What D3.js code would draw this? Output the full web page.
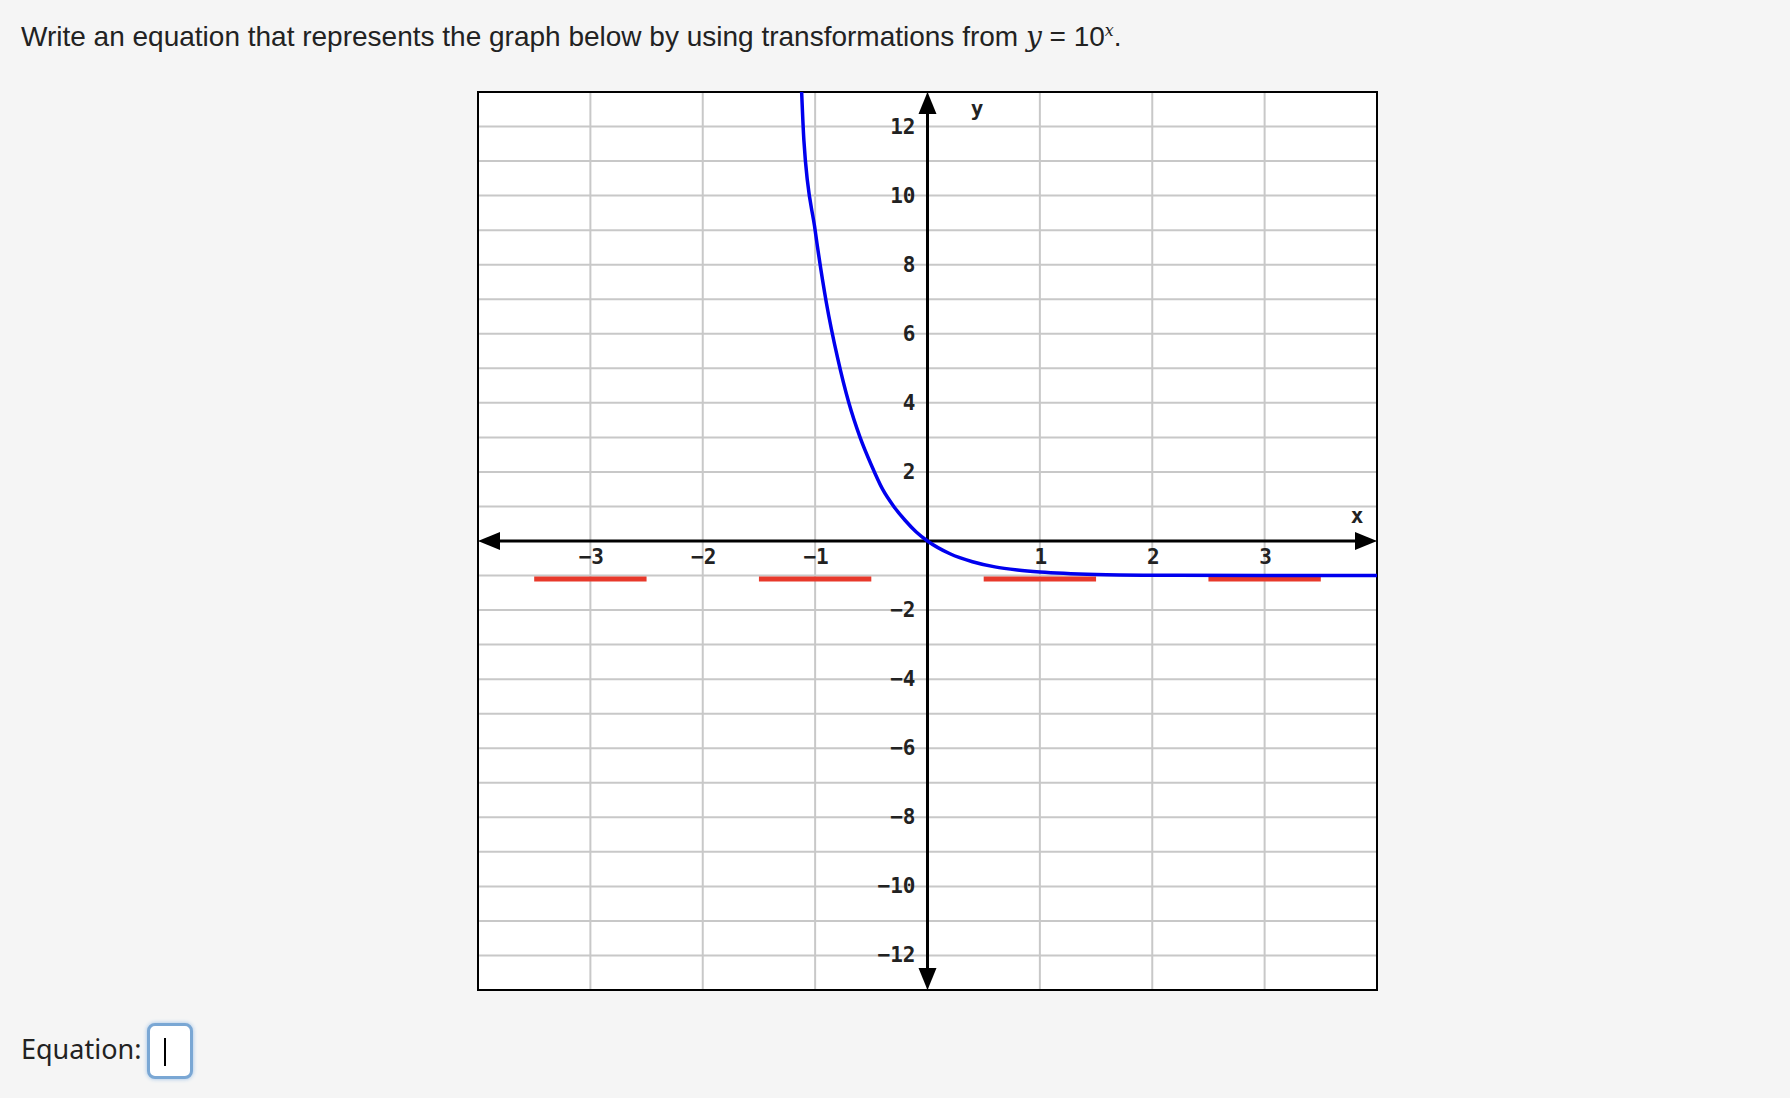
<!DOCTYPE html>
<html><head><meta charset="utf-8">
<script src="https://cdn.jsdelivr.net/npm/d3@7"></script>
<style>
body{margin:0;background:#f5f5f5;font-family:"Liberation Sans",Arial,sans-serif;}
#title{position:absolute;left:21px;top:20px;font-size:28px;color:#222;}
#title i{font-family:"DejaVu Serif",serif;font-size:28px}
#eq{position:absolute;left:21px;top:1030px;font-size:27px;color:#222;font-family:"Noto Sans",sans-serif}
#box{position:absolute;left:147px;top:1023px;width:40px;height:50px;border:3px solid #7aa7d4;border-radius:8px;background:#fff;box-shadow:0 0 4px #9cc0e6}
#box span{position:absolute;left:14px;top:12px;width:2px;height:28px;background:#000}
</style></head><body>
<div id="title">Write an equation that represents the graph below by using transformations from <i>y</i> = 10<sup style="font-size:16px;font-family:'DejaVu Serif';font-style:italic">x</sup>.</div>
<svg id="chart" width="1790" height="1010" style="position:absolute;left:0;top:0"></svg>
<div id="eq">Equation:</div><div id="box"><span></span></div>
<script>
// values
const xTicks = [-3, -2, -1, 1, 2, 3];
const yTicks = [12, 10, 8, 6, 4, 2, -2, -4, -6, -8, -10, -12];
const curveX = [-1.12, -1.1, -1.0, -0.9, -0.8, -0.7, -0.6, -0.5, -0.4, -0.3, -0.2, -0.1, 0, 0.2, 0.4, 0.6, 0.8, 1.0, 1.5, 2.0, 3.0, 4.0];
const curveY = [13.0, 11.6, 9.0, 6.9, 5.3, 4.0, 3.0, 2.2, 1.5, 1.0, 0.6, 0.26, 0, -0.37, -0.6, -0.75, -0.84, -0.9, -0.97, -0.99, -1.0, -1.0];
const redStart = [-3.5, -1.5, 0.5, 2.5];
const redEnd = [-2.5, -0.5, 1.5, 3.5];
const redY = -1.1;

const L = 478, R = 1377, T = 92, B = 990;
const svg = d3.select('#chart');
const x = d3.scaleLinear().domain([-4, 4]).range([L, R]);
const y = d3.scaleLinear().domain([-13, 13]).range([B, T]);

svg.append('rect').attr('x', L).attr('y', T).attr('width', R - L).attr('height', B - T).attr('fill', '#fff');

// grid
svg.append('g').selectAll('line').data(d3.range(-3, 4)).enter().append('line')
  .attr('x1', d => x(d)).attr('x2', d => x(d)).attr('y1', T).attr('y2', B)
  .attr('stroke', '#c8c8c8').attr('stroke-width', 2);
svg.append('g').selectAll('line').data(d3.range(-12, 13)).enter().append('line')
  .attr('y1', d => y(d)).attr('y2', d => y(d)).attr('x1', L).attr('x2', R)
  .attr('stroke', '#c8c8c8').attr('stroke-width', 2);

svg.append('rect').attr('x', L).attr('y', T).attr('width', R - L).attr('height', B - T)
  .attr('fill', 'none').attr('stroke', '#000').attr('stroke-width', 2);

// red segments
svg.append('g').selectAll('line').data(redStart).enter().append('line')
  .attr('x1', d => x(d)).attr('x2', (d, i) => x(redEnd[i])).attr('y1', y(redY)).attr('y2', y(redY))
  .attr('stroke', '#e8392b').attr('stroke-width', 5);

// axes
const ax = svg.append('g').attr('stroke', '#000').attr('stroke-width', 3);
ax.append('line').attr('x1', x(-4) + 18).attr('x2', x(4) - 18).attr('y1', y(0)).attr('y2', y(0));
ax.append('line').attr('x1', x(0)).attr('x2', x(0)).attr('y1', T + 18).attr('y2', B - 18);
const arrows = [[x(-4), y(0), 180], [x(4), y(0), 0], [x(0), T, -90], [x(0), B, 90]];
svg.append('g').selectAll('path').data(arrows).enter().append('path')
  .attr('d', 'M0,0 L-22,-9 L-22,9 Z').attr('fill', '#000')
  .attr('transform', d => `translate(${d[0]},${d[1]}) rotate(${d[2]})`);

const lab = svg.append('g').attr('font-family', '"DejaVu Sans Mono",monospace').attr('font-weight', 'bold')
  .attr('font-size', 21).attr('fill', '#222');
lab.selectAll('.xt').data(xTicks).enter().append('text')
  .attr('x', d => x(d) + 1).attr('y', y(0) + 23).attr('text-anchor', 'middle').text(d => d < 0 ? '\u2212' + (-d) : d);
lab.selectAll('.yt').data(yTicks).enter().append('text')
  .attr('x', x(0) - 12).attr('y', d => y(d) + 7).attr('text-anchor', 'end').text(d => d < 0 ? '\u2212' + (-d) : d);
lab.append('text').attr('x', 977).attr('y', 116).attr('text-anchor', 'middle').text('y');
lab.append('text').attr('x', 1357).attr('y', 523).attr('text-anchor', 'middle').text('x');

// curve
const pts = curveX.map((v, i) => [v, curveY[i]]);
svg.append('path').datum(pts)
  .attr('d', d3.line().x(d => x(d[0])).y(d => y(d[1])).curve(d3.curveMonotoneX))
  .attr('fill', 'none').attr('stroke', '#0000ee').attr('stroke-width', 3.5);
</script>
</body></html>
